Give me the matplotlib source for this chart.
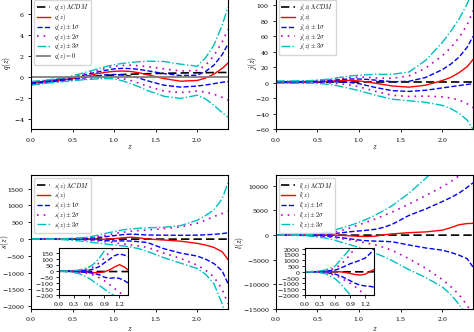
import matplotlib.pyplot as plt
from matplotlib.ticker import MultipleLocator

plt.rcParams['mathtext.fontset'] = 'cm'
plt.rcParams['font.family'] = 'serif'
plt.rcParams['font.serif'] = ['DejaVu Serif']
plt.rcParams['axes.formatter.use_mathtext'] = True

# redshift grid
z = [0.0, 0.2, 0.4, 0.6, 0.7, 0.8, 0.9, 1.0, 1.1, 1.2, 1.3, 1.4, 1.6, 1.8, 2.0, 2.1, 2.2, 2.3, 2.37]

# deceleration parameter q(z)
q_lcdm = [-0.55, -0.37, -0.2, -0.05, 0.01, 0.07, 0.12, 0.17, 0.21, 0.24, 0.27, 0.29, 0.33, 0.36, 0.38, 0.39, 0.40, 0.41, 0.41]
q_mean = [-0.6, -0.45, -0.28, -0.05, 0.12, 0.3, 0.43, 0.52, 0.55, 0.5, 0.38, 0.2, -0.17, -0.42, -0.35, -0.12, 0.25, 0.8, 1.3]
q_p1 = [-0.55, -0.4, -0.2, 0.1, 0.27, 0.45, 0.62, 0.75, 0.8, 0.78, 0.7, 0.57, 0.3, 0.12, 0.15, 0.5, 1.1, 2.1, 3.1]
q_m1 = [-0.7, -0.5, -0.35, -0.15, -0.02, 0.1, 0.18, 0.22, 0.18, 0.07, -0.12, -0.38, -0.8, -0.98, -0.88, -0.78, -0.65, -0.52, -0.45]
q_p2 = [-0.5, -0.35, -0.15, 0.2, 0.4, 0.6, 0.82, 1.0, 1.08, 1.1, 1.05, 0.97, 0.75, 0.55, 0.6, 1.1, 2.0, 3.3, 4.5]
q_m2 = [-0.75, -0.55, -0.4, -0.25, -0.17, -0.1, -0.06, -0.08, -0.18, -0.35, -0.6, -0.9, -1.35, -1.5, -1.35, -1.45, -1.65, -1.95, -2.2]
q_p3 = [-0.45, -0.3, -0.1, 0.3, 0.52, 0.75, 0.97, 1.15, 1.27, 1.36, 1.43, 1.48, 1.45, 1.2, 1.0, 1.8, 3.0, 4.9, 6.6]
q_m3 = [-0.8, -0.6, -0.45, -0.3, -0.25, -0.2, -0.17, -0.2, -0.38, -0.65, -0.95, -1.3, -1.85, -2.05, -1.75, -2.1, -2.7, -3.4, -3.85]

# jerk j(z)
j_lcdm = [1.0] * 19
j_mean = [1, 1, 1.3, 2, 2.5, 3, 3, 2.5, 1.2, -0.5, -2.3, -4, -5.5, -3, 3, 7, 13, 21, 30]
j_p1 = [1.5, 1.5, 1.8, 2.8, 3.5, 4.5, 5, 5, 4.5, 3.5, 2.5, 1.5, 2, 7, 17, 24, 33, 46, 60]
j_m1 = [0.5, 0.5, 0.8, 1.2, 1.3, 1.2, 0.3, -1, -3.5, -6, -8, -10, -11, -9.5, -6.5, -5, -3.5, -2, -1]
j_p2 = [2, 2, 2.3, 3.6, 4.7, 6, 7, 7.5, 7.2, 6.5, 6, 6, 9, 19, 35, 45, 58, 75, 93]
j_m2 = [0, 0, 0.3, 0.3, -0.5, -1.5, -3, -5, -8, -11, -13.5, -16, -17.5, -17, -18, -19.5, -22, -27, -32]
j_p3 = [2.5, 2.5, 2.8, 4.5, 6, 7.5, 9, 10, 10.5, 11, 11, 11, 14, 29, 52, 66, 82, 102, 120]
j_m3 = [-0.5, -0.5, -0.3, -1.5, -3, -5, -7.5, -10, -13, -16, -18.5, -21, -23, -25, -29, -33, -39, -48, -60]

# snap s(z)
s_lcdm = [-0.4, -1.0, -1.5, -2.0, -2.2, -2.4, -2.5, -2.6, -2.7, -2.8, -2.9, -3.0, -3.1, -3.2, -3.2, -3.3, -3.3, -3.3, -3.3]
s_mean = [0, 0, -2, -8, -12, -12, -5, 10, 35, 55, 35, 0, -30, -65, -130, -180, -250, -380, -610]
s_p1 = [0, 2, 5, 10, 20, 40, 70, 100, 130, 145, 135, 120, 115, 110, 115, 125, 140, 160, 185]
s_m1 = [0, -2, -5, -12, -20, -30, -50, -60, -55, -60, -80, -105, -290, -420, -510, -600, -730, -950, -1330]
s_p2 = [0, 2, 6, 20, 40, 70, 110, 160, 200, 230, 255, 270, 310, 360, 470, 560, 670, 760, 830]
s_m2 = [0, -3, -8, -20, -35, -55, -80, -110, -145, -175, -210, -250, -420, -580, -780, -930, -1130, -1500, -1930]
s_p3 = [0, 3, 10, 35, 65, 110, 170, 220, 270, 300, 320, 335, 350, 400, 560, 700, 870, 1200, 1670]
s_m3 = [0, -5, -20, -60, -90, -120, -150, -180, -205, -240, -290, -370, -560, -720, -880, -1050, -1330, -1930, -2500]

# lerk l(z)
l_lcdm = [2.4, 2.0, 1.5, 1.0, 0.8, 0.6, 0.4, 0.2, 0.0, -0.2, -0.3, -0.4, -0.6, -0.7, -0.8, -0.8, -0.9, -0.9, -0.9]
l_mean = [0, 0, 10, 20, 0, -60, -150, -240, -280, -200, 50, 250, 500, 650, 1000, 1500, 2100, 2350, 2380]
l_p1 = [0, 5, 50, 150, 300, 500, 700, 850, 1000, 1200, 1600, 2200, 4000, 5300, 6800, 7600, 8500, 9700, 10600]
l_m1 = [0, -5, -50, -200, -350, -550, -780, -1000, -1150, -1220, -1260, -1350, -2000, -2600, -3050, -3500, -4050, -4800, -6500]
l_p2 = [0, 10, 60, 300, 600, 1000, 1500, 2100, 2700, 3300, 4000, 4700, 6300, 8000, 9800, 10800, 12000, 13500, 15000]
l_m2 = [0, -10, -80, -300, -500, -750, -1000, -1300, -1650, -2000, -2500, -3100, -4800, -6700, -9000, -10400, -12000, -14300, -16000]
l_p3 = [0, 20, 150, 500, 1000, 1500, 2000, 2600, 3300, 4100, 5000, 6000, 8500, 11500, 15000, 17000, 19500, 22000, 25000]
l_m3 = [0, -20, -150, -600, -1000, -1500, -2000, -2500, -3100, -3700, -4400, -5200, -7000, -8600, -10500, -12000, -14000, -16500, -18000]


def curvas(ax, nombre, lcdm, media, p1, m1, p2, m2, p3, m3):
    """Dibuja las siete curvas de un parametro cosmografico"""
    ax.plot(z, lcdm, color='k', ls=(0, (5, 2.5)), lw=1.2, label=rf'${nombre}(z)\;\Lambda CDM$')
    ax.plot(z, media, color='r', lw=1.0, label=rf'${nombre}(z)$')
    ax.plot(z, p1, color='b', ls='--', lw=1.0, label=rf'${nombre}(z)\pm 1\sigma$')
    ax.plot(z, m1, color='b', ls='--', lw=1.0)
    ax.plot(z, p2, color='m', ls=(0, (1, 3)), lw=1.2, label=rf'${nombre}(z)\pm 2\sigma$')
    ax.plot(z, m2, color='m', ls=(0, (1, 3)), lw=1.2)
    ax.plot(z, p3, color='c', ls='-.', lw=1.0, label=rf'${nombre}(z)\pm 3\sigma$')
    ax.plot(z, m3, color='c', ls='-.', lw=1.0)


def panel(ax, nombre, datos, ylim, paso, pos_ylabel, pos_xlabel):
    curvas(ax, nombre, *datos)
    ax.set_xlim(0, 2.37)
    ax.set_ylim(*ylim)
    ax.yaxis.set_major_locator(MultipleLocator(paso))
    ax.xaxis.set_major_locator(MultipleLocator(0.5))
    ax.set_xlabel(r'$z$', fontsize=5.5)
    ax.set_ylabel(rf'${nombre}(z)$', fontsize=5.5)
    ax.yaxis.set_label_coords(pos_ylabel, 0.5)
    ax.xaxis.set_label_coords(0.5, pos_xlabel)
    ax.tick_params(labelsize=4.5, length=2.5, width=0.6, pad=2)


def recuadro(ax, nombre, datos, ylim, paso):
    curvas(ax, nombre, *datos)
    ax.set_xlim(0, 1.37)
    ax.set_ylim(*ylim)
    ax.xaxis.set_major_locator(MultipleLocator(0.3))
    ax.yaxis.set_major_locator(MultipleLocator(paso))
    ax.tick_params(labelsize=4.5, length=2, width=0.6, pad=1.5)


fig = plt.figure(figsize=(4.74, 3.32), dpi=100)

ax_q = fig.add_axes([0.0654, 0.61, 0.4156, 0.40])
ax_j = fig.add_axes([0.582, 0.61, 0.416, 0.40])
ax_s = fig.add_axes([0.0654, 0.069, 0.4156, 0.404])
ax_l = fig.add_axes([0.582, 0.069, 0.416, 0.404])

datos_q = (q_lcdm, q_mean, q_p1, q_m1, q_p2, q_m2, q_p3, q_m3)
datos_j = (j_lcdm, j_mean, j_p1, j_m1, j_p2, j_m2, j_p3, j_m3)
datos_s = (s_lcdm, s_mean, s_p1, s_m1, s_p2, s_m2, s_p3, s_m3)
datos_l = (l_lcdm, l_mean, l_p1, l_m1, l_p2, l_m2, l_p3, l_m3)

panel(ax_q, 'q', datos_q, (-5, 7.6), 2, -0.09, -0.105)
ax_q.axhline(0, color='gray', lw=1.3, label=r'$q(z)=0$')
panel(ax_j, 'j', datos_j, (-60, 111), 20, -0.085, -0.105)
panel(ax_s, 's', datos_s, (-2090, 1910), 500, -0.102, -0.115)
panel(ax_l, 'l', datos_l, (-15000, 12200), 5000, -0.152, -0.115)

for ax in (ax_q, ax_j, ax_s, ax_l):
    ax.legend(loc='upper left', fontsize=4.5, labelspacing=-0.2, handlelength=2.2,
              borderpad=0.4, handletextpad=0.6)

ins_s = fig.add_axes([0.1245, 0.1114, 0.1455, 0.1416])
recuadro(ins_s, 's', datos_s, (-200, 195), 50)
ins_l = fig.add_axes([0.6435, 0.1114, 0.1455, 0.1416])
recuadro(ins_l, 'l', datos_l, (-2000, 2050), 500)

fig.savefig('out.png', dpi=100)
